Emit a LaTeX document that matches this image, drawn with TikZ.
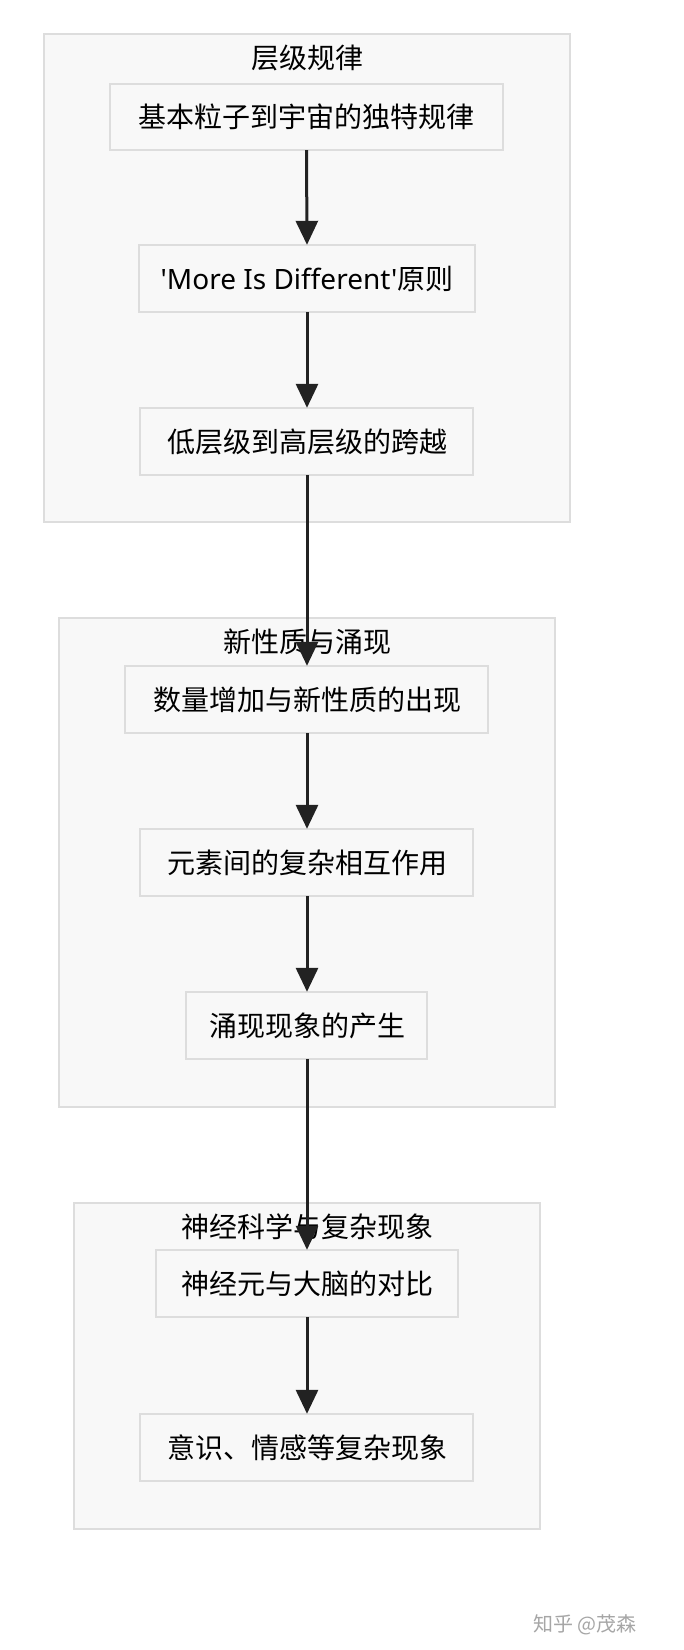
\documentclass[tikz,border=0pt]{standalone}
\usepackage{fontspec}
\setmainfont{Noto Sans CJK SC}
\newfontfamily\lat{Noto Sans}
\usetikzlibrary{arrows.meta}
\definecolor{clfill}{HTML}{F8F8F8}
\definecolor{clline}{HTML}{DDDDDD}
\definecolor{arr}{HTML}{222222}
\begin{document}
\begin{tikzpicture}[x=1pt,y=-1pt,
  cluster/.style={draw=clline,fill=clfill,line width=1.2pt},
  stepbox/.style={draw=clline,fill=clfill,line width=1.5pt},
  lbl/.style={font=\fontsize{28}{32}\selectfont,text=black},
  conn/.style={draw=arr,line width=3pt,-{Triangle[length=24pt,width=22pt]}}]
\useasboundingbox (0,0) rectangle (684,1650);
\fill[white] (0,0) rectangle (684,1650);
\draw[cluster] (44,34) rectangle (570,522);
\draw[cluster] (59,618) rectangle (555,1107);
\draw[cluster] (74,1203) rectangle (540,1529);
\node[lbl] (t1) at (307,58) {层级规律};
\node[lbl] (t2) at (307,642) {新性质与涌现};
\node[lbl] (t3) at (307,1227) {神经科学与复杂现象};
\draw[stepbox] (110,84) rectangle (503,150);
\draw[stepbox] (139,245) rectangle (475,312);
\draw[stepbox] (140,408) rectangle (473,475);
\draw[stepbox] (125,666) rectangle (488,733);
\draw[stepbox] (140,829) rectangle (473,896);
\draw[stepbox] (186,992) rectangle (427,1059);
\draw[stepbox] (156,1250) rectangle (458,1317);
\draw[stepbox] (140,1414) rectangle (473,1481);
\node[lbl,inner sep=0pt,minimum height=66pt] (n1) at (306.5,117) {基本粒子到宇宙的独特规律};
\node[lbl,inner sep=0pt,minimum height=67pt] (n2) at (307,278.5) {{\lat 'More Is Different'}原则};
\node[lbl,inner sep=0pt,minimum height=67pt] (n3) at (307,441.5) {低层级到高层级的跨越};
\node[lbl,inner sep=0pt,minimum height=67pt] (n4) at (307,699.5) {数量增加与新性质的出现};
\node[lbl,inner sep=0pt,minimum height=67pt] (n5) at (307,862.5) {元素间的复杂相互作用};
\node[lbl,inner sep=0pt,minimum height=67pt] (n6) at (307,1025.5) {涌现现象的产生};
\node[lbl,inner sep=0pt,minimum height=67pt] (n7) at (307,1283.5) {神经元与大脑的对比};
\node[lbl,inner sep=0pt,minimum height=67pt] (n8) at (307,1447.5) {意识、情感等复杂现象};
\draw[conn] (n1.south) -- (n2.north);
\draw[conn] (n2.south) -- (n3.north);
\draw[conn] (n3.south) -- (n4.north);
\draw[conn] (n4.south) -- (n5.north);
\draw[conn] (n5.south) -- (n6.north);
\draw[conn] (n6.south) -- (n7.north);
\draw[conn] (n7.south) -- (n8.north);
\node[font=\fontsize{20}{24}\selectfont,text=gray!70] (wm) at (585,1625) {知乎 @茂森};
\end{tikzpicture}
\end{document}
